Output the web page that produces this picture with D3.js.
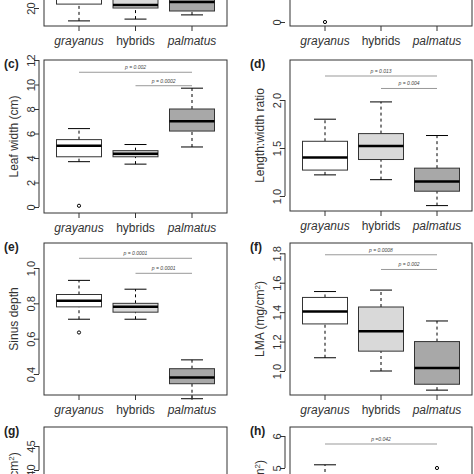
<!DOCTYPE html><html><head><meta charset="utf-8">
<script src="https://cdn.jsdelivr.net/npm/d3@7"></script>
<style>body{margin:0;background:#fff}text{font-family:"Liberation Sans",Arial,sans-serif}</style></head><body>
<svg id="c" width="474" height="474"></svg>
<script>
const groups=["grayanus","hybrids","palmatus"];
const fills=["#ffffff","#d9d9d9","#a8a8a8"];
// [lowWhisker,Q1,median,Q3,highWhisker]
const statsA=[[15.7,21.3,24,30,33],[16.3,20,21,26,30],[17.7,19,22,30,33]];
const statsB=[];
const outB=[[0,0]];
const statsC=[[3.7,4.1,5.0,5.5,6.4],[3.5,4.1,4.35,4.6,5.1],[4.9,6.2,7.0,8.0,9.7]];
const outC=[[0,0.1]];
const statsD=[[1.22,1.27,1.40,1.57,1.80],[1.17,1.38,1.52,1.65,1.98],[0.90,1.05,1.15,1.29,1.63]];
const statsE=[[0.71,0.78,0.815,0.85,0.93],[0.71,0.75,0.78,0.80,0.88],[0.26,0.345,0.38,0.43,0.48]];
const outE=[[0,0.635]];
const statsF=[[1.09,1.32,1.405,1.50,1.54],[1.00,1.135,1.27,1.435,1.55],[0.87,0.91,1.02,1.20,1.34]];
const ticksA=[20],ticksB=[0],ticksC=[0,2,4,6,8,10,12],ticksD=[1.0,1.5,2.0],ticksE=[0.4,0.6,0.8,1.0],ticksF=[1.0,1.2,1.4,1.6,1.8],ticksG=[40,45],ticksH=[5,6];
const pC=[["p = 0.002",0,11],["p = 0.0002",1,9.9]];
const pD=[["p = 0.013",0,2.25],["p = 0.004",1,2.12]];
const pE=[["p = 0.0001",0,1.055],["p = 0.0001",1,0.97]];
const pF=[["p = 0.0008",0,1.79],["p = 0.002",1,1.69]];
const pH=[["p =0.042",0,5.75]];
const svg=d3.select("#c");
function panel(o){
  const g=svg.append("g");
  const y=d3.scaleLinear().domain(o.yd).range(o.yr);
  const x=d3.scalePoint().domain(groups).range([o.l+35,o.r-35]);
  const yB=o.bottom, yT=o.top;
  (o.stats||[]).forEach((s,i)=>{
    const cx=x(groups[i]),w=45;
    g.append("line").attr("x1",cx).attr("x2",cx).attr("y1",y(s[0])).attr("y2",y(s[1])).attr("stroke","#000").attr("stroke-dasharray","3,3");
    g.append("line").attr("x1",cx).attr("x2",cx).attr("y1",y(s[3])).attr("y2",y(s[4])).attr("stroke","#000").attr("stroke-dasharray","3,3");
    [s[0],s[4]].forEach(v=>g.append("line").attr("x1",cx-11).attr("x2",cx+11).attr("y1",y(v)).attr("y2",y(v)).attr("stroke","#000"));
    g.append("rect").attr("x",cx-w/2).attr("width",w).attr("y",y(s[3])).attr("height",y(s[1])-y(s[3])).attr("fill",fills[i]).attr("stroke","#333");
    g.append("line").attr("x1",cx-w/2).attr("x2",cx+w/2).attr("y1",y(s[2])).attr("y2",y(s[2])).attr("stroke","#000").attr("stroke-width",2.5);
  });
  (o.out||[]).forEach(p=>g.append("circle").attr("cx",x(groups[p[0]])).attr("cy",y(p[1])).attr("r",1.6).attr("fill","none").attr("stroke","#000"));
  (o.pv||[]).forEach(p=>{
    g.append("line").attr("x1",x(groups[p[1]])).attr("x2",x(groups[2])).attr("y1",y(p[2])).attr("y2",y(p[2])).attr("stroke","#999");
    g.append("text").attr("x",(x(groups[p[1]])+x(groups[2]))/2).attr("y",y(p[2])-3).attr("text-anchor","middle").attr("font-size",5).attr("font-style","italic").attr("fill","#444").text(p[0]);
  });
  g.append("rect").attr("x",o.l).attr("y",yT).attr("width",o.r-o.l).attr("height",yB-yT).attr("fill","none").attr("stroke","#333");
  const ax=g.append("g").attr("transform",`translate(${o.l-5},0)`).call(d3.axisLeft(y).tickValues(o.ticks).tickSize(5).tickFormat(o.fmt||(d=>d)));
  ax.select(".domain").remove();
  ax.selectAll("line").attr("stroke","#333");
  ax.append("line").attr("y1",y(d3.min(o.ticks))).attr("y2",y(d3.max(o.ticks))).attr("stroke","#333");
  ax.selectAll("text").attr("transform",function(){const t=d3.select(this.parentNode).attr("transform");return "rotate(-90) translate(0,-4)"}).attr("x",0).attr("dy",0).attr("text-anchor","middle").attr("font-size",11).attr("fill","#333").attr("font-family","Liberation Sans");
  if(o.xlab){
    groups.forEach(gn=>{g.append("line").attr("x1",x(gn)).attr("x2",x(gn)).attr("y1",yB).attr("y2",yB+5).attr("stroke","#333");
      g.append("text").attr("x",x(gn)).attr("y",yB+19).attr("text-anchor","middle").attr("font-size",12).attr("fill","#333").attr("font-style",gn==="hybrids"?"normal":"italic").text(gn);});
  }
  if(o.title) g.append("text").attr("transform",`translate(${o.l-26},${(yT+yB)/2}) rotate(-90)`).attr("text-anchor","middle").attr("font-size",12).attr("fill","#333").html(o.title);
  if(o.tag) g.append("text").attr("x",o.l-40).attr("y",yT+8).attr("font-size",12).attr("font-weight","bold").attr("fill","#222").text(o.tag);
}
const L=[44,227],R=[290,472];
panel({l:L[0],r:L[1],top:-40,bottom:26,yd:[20,15],yr:[8,23],stats:statsA,ticks:ticksA,xlab:true});
panel({l:R[0],r:R[1],top:-40,bottom:26,yd:[0,5],yr:[22,-20],out:outB,ticks:ticksB,xlab:true});
panel({l:L[0],r:L[1],top:60,bottom:213,yd:[0,12],yr:[207,60],stats:statsC,out:outC,pv:pC,ticks:ticksC,xlab:true,title:"Leaf width (cm)",tag:"(c)"});
panel({l:R[0],r:R[1],top:60,bottom:211,yd:[1,2],yr:[196,100],stats:statsD,pv:pD,ticks:ticksD,fmt:d3.format(".1f"),xlab:true,title:"Length:width ratio",tag:"(d)"});
panel({l:L[0],r:L[1],top:243,bottom:395,yd:[0.4,1.0],yr:[374,268],stats:statsE,out:outE,pv:pE,ticks:ticksE,fmt:d3.format(".1f"),xlab:true,title:"Sinus depth",tag:"(e)"});
panel({l:R[0],r:R[1],top:243,bottom:395,yd:[1.0,1.8],yr:[371,253.3],stats:statsF,pv:pF,ticks:ticksF,fmt:d3.format(".1f"),xlab:true,title:"LMA (mg/cm<tspan baseline-shift='super' font-size='8'>2</tspan>)",tag:"(f)"});
panel({l:L[0],r:L[1],top:427,bottom:560,yd:[40,45],yr:[470,446],ticks:ticksG,tag:"(g)",title:"Leaf area (cm<tspan baseline-shift='super' font-size='8'>2</tspan>)"});
panel({l:R[0],r:R[1],top:427,bottom:560,yd:[5,6],yr:[468,436],stats:[[3,3.5,4,4.5,5.1],[3,3.4,3.8,4.2,4.6],[3,3.3,3.6,4,4.4]],out:[[2,5.0]],pv:pH,ticks:ticksH,tag:"(h)",title:"SA (mg/cm<tspan baseline-shift='super' font-size='8'>2</tspan>)"});
</script></body></html>
